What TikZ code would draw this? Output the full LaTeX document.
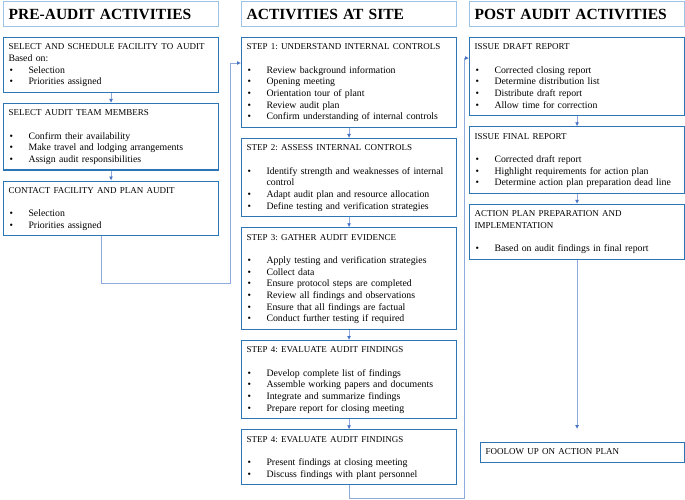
\documentclass[tikz,border=0pt]{standalone}
\usepackage{fontspec}
\setmainfont{Liberation Serif}
\usetikzlibrary{positioning,arrows.meta}

\definecolor{boxblue}{RGB}{46,117,182}
\definecolor{headblue}{RGB}{157,195,230}
\definecolor{linkblue}{RGB}{143,170,220}
\definecolor{tipblue}{RGB}{68,114,196}

\frenchspacing
\newcommand{\ttl}[1]{{\fontsize{9pt}{11.7pt}\selectfont\strut #1\par}}
\newcommand{\bul}[1]{\par\hangindent=20pt\hangafter=1\noindent\makebox[20pt][l]{\hspace{1pt}\textbullet}\strut #1}
\newcommand{\gap}{\par\mbox{}}

\begin{document}
\begin{tikzpicture}[x=1pt,y=-1pt,node distance=10pt,
                    head node/.style={draw=headblue,line width=1.4pt,anchor=north west,minimum height=25pt,
                                      text width=205pt,inner xsep=5pt,inner ysep=0pt,align=left,
                                      font=\fontsize{15.5pt}{18pt}\selectfont\bfseries},
                    main node/.style={draw=boxblue,line width=1.1pt,fill=white,text width=205pt,
                                      inner xsep=5pt,inner ysep=4pt,align=left,
                                      font=\fontsize{9.8pt}{11.7pt}\selectfont},
                    link/.style={draw=linkblue,line width=0.8pt},
                    flow/.style={link,-{Latex[length=4pt,width=4pt,color=tipblue]}}]

  \useasboundingbox (0,0) rectangle (685,500);

  % column headers
  \node[head node] (prehead) at (3,1) {PRE-AUDIT ACTIVITIES};
  \node[head node] (sitehead) at (241,1) {ACTIVITIES AT SITE};
  \node[head node] (posthead) at (469,1) {POST AUDIT ACTIVITIES};

  % pre-audit
  \node[main node,anchor=north west] (pre1) at (3,37)
    {\ttl{SELECT AND SCHEDULE FACILITY TO AUDIT}Based on:\bul{Selection}\bul{Priorities assigned}};
  \node[main node] (pre2) [below=of pre1]
    {\ttl{SELECT AUDIT TEAM MEMBERS}\gap\bul{Confirm their availability}\bul{Make travel and lodging arrangements}\bul{Assign audit responsibilities}};
  \node[main node] (pre3) [below=of pre2]
    {\ttl{CONTACT FACILITY AND PLAN AUDIT}\gap\bul{Selection}\bul{Priorities assigned}};

  % at site
  \node[main node,anchor=north west] (step1) at (241,37)
    {\ttl{STEP 1: UNDERSTAND INTERNAL CONTROLS}\gap\bul{Review background information}\bul{Opening meeting}\bul{Orientation tour of plant}\bul{Review audit plan}\bul{Confirm understanding of internal controls}};
  \node[main node] (step2) [below=of step1]
    {\ttl{STEP 2: ASSESS INTERNAL CONTROLS}\gap\bul{Identify strength and weaknesses of internal\break control}\bul{Adapt audit plan and resource allocation}\bul{Define testing and verification strategies}};
  \node[main node] (step3) [below=of step2]
    {\ttl{STEP 3: GATHER AUDIT EVIDENCE}\gap\bul{Apply testing and verification strategies}\bul{Collect data}\bul{Ensure protocol steps are completed}\bul{Review all findings and observations}\bul{Ensure that all findings are factual}\bul{Conduct further testing if required}};
  \node[main node] (step4) [below=of step3]
    {\ttl{STEP 4: EVALUATE AUDIT FINDINGS}\gap\bul{Develop complete list of findings}\bul{Assemble working papers and documents}\bul{Integrate and summarize findings}\bul{Prepare report for closing meeting}};
  \node[main node] (step5) [below=of step4]
    {\ttl{STEP 4: EVALUATE AUDIT FINDINGS}\gap\bul{Present findings at closing meeting}\bul{Discuss findings with plant personnel}};

  % post audit
  \node[main node,anchor=north west] (draft) at (469,37)
    {\ttl{ISSUE DRAFT REPORT}\gap\bul{Corrected closing report}\bul{Determine distribution list}\bul{Distribute draft report}\bul{Allow time for correction}};
  \node[main node] (final) [below=of draft]
    {\ttl{ISSUE FINAL REPORT}\gap\bul{Corrected draft report}\bul{Highlight requirements for action plan}\bul{Determine action plan preparation dead line}};
  \node[main node] (action) [below=of final]
    {\ttl{ACTION PLAN PREPARATION AND\\IMPLEMENTATION}\gap\bul{Based on audit findings in final report}};
  \node[main node,anchor=north west,text width=194pt] (fup) at (480,442)
    {\ttl{FOOLOW UP ON ACTION PLAN}};

  \coordinate (preturn) at (230,283);
  \coordinate (siteturn) at (464,498);

  \path[flow]
    (pre1) edge (pre2)
    (pre2) edge (pre3)
    (step1) edge (step2)
    (step2) edge (step3)
    (step3) edge (step4)
    (step4) edge (step5)
    (draft) edge (final)
    (final) edge (action);

  \draw[flow] ([xshift=-10pt]pre3.south) |- (preturn) |- ([yshift=19.5pt]step1.west);
  \draw[flow] (step5.south) |- (siteturn) |- ([yshift=18.6pt]draft.west);
  \draw[flow,shorten >=13pt] (action.south) -- (action.south |- fup.north);
\end{tikzpicture}
\end{document}
